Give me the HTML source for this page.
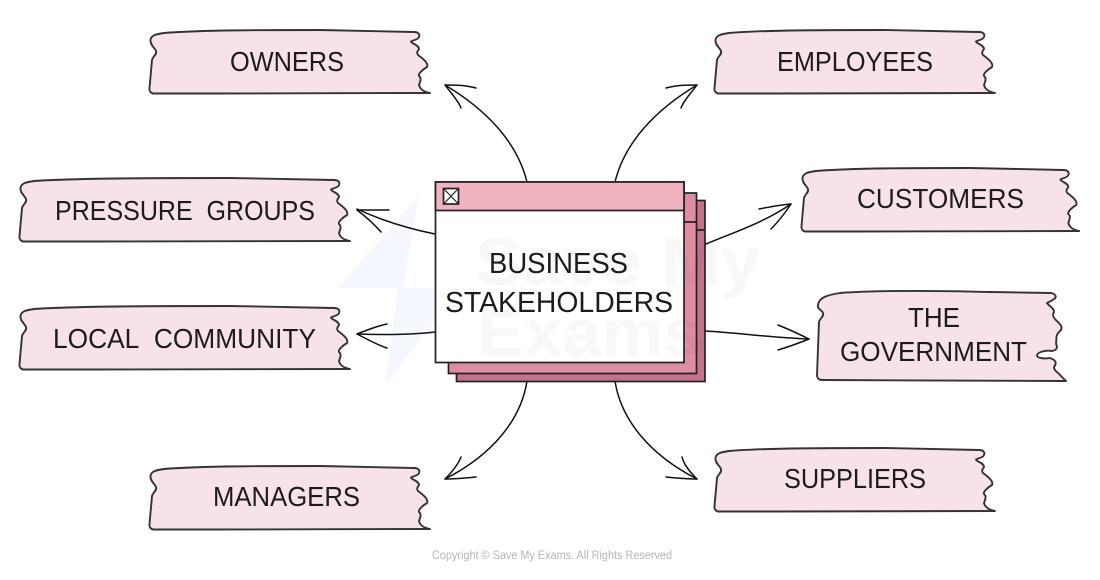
<!DOCTYPE html>
<html>
<head>
<meta charset="utf-8">
<style>
html,body{margin:0;padding:0;background:#fff}
svg{display:block}
text{font-family:"Liberation Sans",sans-serif;font-size:27.5px;fill:#1c1c1c;stroke:none}
.tag{fill:#f7e2e8;stroke:#333;stroke-width:1.9;stroke-linejoin:round}
.a{fill:none;stroke:#111;stroke-width:1.5;stroke-linecap:round;stroke-linejoin:round}
.w{stroke:#222;stroke-width:1.7}
</style>
</head>
<body>
<svg width="1100" height="580" viewBox="0 0 1100 580" xmlns="http://www.w3.org/2000/svg">
<defs>
<path id="t280" d="M0.5 10C1 5 7 4 14 3C50 0 120 0 170 0L264 2C269 2 270 5 269 7C268 10 263 10 261 11.500C262 14 269 15 269 19C268 21 266 22 268 25C272 28 279 33 277 37C272 40 268 44 269 46C272 48 270 52 269 55C270 59 274 62 280 63L60 63.500L5 63.500C1 64 -1 61 -0.500 58L2 30C3 26 7 25 6 21C5 18 0 15 0.500 10Z"/>
<path id="t330" d="M0.5 10C1 5 7 4 14 3C60 0 150 0 210 0L314 2C319 2 320 5 319 7C318 10 313 10 311 11.500C312 14 319 15 319 19C318 21 316 22 318 25C322 28 329 33 327 37C322 40 318 44 319 46C322 48 320 52 319 55C320 59 324 62 330 63L70 63.500L5 63.500C1 64 -1 61 -0.500 58L2 30C3 26 7 25 6 21C5 18 0 15 0.500 10Z"/>
</defs>

<!-- watermark bolt -->
<polygon points="419,195 338,288 398,288 385,385 435,320 435,288 403,288" fill="#f5f7fe"/>

<!-- tags -->
<use href="#t280" x="150" y="30" class="tag"/>
<use href="#t280" x="715" y="30" class="tag"/>
<use href="#t330" x="20" y="178" class="tag"/>
<use href="#t330" x="20" y="306" class="tag"/>
<use href="#t280" x="150" y="466" class="tag"/>
<use href="#t280" x="715" y="448" class="tag"/>
<use href="#t280" x="802" y="168" transform="translate(802 0) scale(.99 1) translate(-802 0)" class="tag"/>
<path class="tag" d="M818 305C819 297 828 295 840 293C880 290 950 291 990 292L1051 293C1056 294 1057 297 1054 299C1052 301 1048 302 1047 303C1050 307 1054 308 1054 312C1052 315 1053 318 1058 322C1062 326 1063 329 1059 332C1055 336 1057 340 1056 344C1058 347 1057 350 1052 351C1045 350 1037 352 1037 356C1038 358 1044 359 1050 358C1056 360 1057 363 1054 367C1054 371 1058 372 1061 376L1066 381L822 380C818 380 817 377 817 375L819 322C820 318 824 317 823 313C822 310 817 309 818 305Z"/>

<!-- arrows -->
<g class="a">
<path d="M527 182C518 145 490 112 445 85"/><path d="M476 88C465 85 455 85 445 85C450 92 458 100 461 108"/>
<path d="M615 182C624 145 652 112 697 85"/><path d="M666 88C677 85 687 85 697 85C692 92 684 100 681 108"/>
<path d="M435 234C410 229 385 222 357 209"/><path d="M389 210H357C365 216 374 224 381 232"/>
<path d="M435 332C410 335 385 335 357 334"/><path d="M387 324C377 326 367 330 357 334C367 339 377 345 387 348"/>
<path d="M527 381C521 420 492 455 445 479"/><path d="M476 477C466 478 456 479 445 479C452 472 458 465 461 457"/>
<path d="M615 381C621 420 650 455 697 479"/><path d="M666 477C676 478 686 479 697 479C690 472 684 465 682 457"/>
<path d="M706 244C735 232 765 222 791 204"/><path d="M759 209C769 207 780 205 791 204C785 213 778 222 771 229"/>
<path d="M705 331C740 333 775 338 809 339"/><path d="M778 325C788 329 799 334 809 339C799 343 788 347 778 350"/>
</g>

<!-- window stack -->
<rect class="w" x="456.5" y="200.5" width="248.5" height="181" fill="#c4728a"/>
<line class="w" x1="456.5" y1="230" x2="705" y2="230"/>
<rect class="w" x="448.5" y="193" width="248" height="180.5" fill="#dd8ea3"/>
<line class="w" x1="448.5" y1="222" x2="696.5" y2="222"/>
<rect class="w" x="435.5" y="182" width="248.5" height="180.500" fill="#fff"/>
<rect class="w" x="435.5" y="182" width="248.5" height="28.500" fill="#f2b3c1"/>
<rect x="443.5" y="188.500" width="15" height="15.500" fill="#fff" stroke="#222" stroke-width="1.700"/>
<path d="M443.500 188.500L458.500 204M458.500 188.500L443.500 204" stroke="#222" stroke-width="1.200"/>

<!-- watermark text -->
<g style="opacity:.022">
<text x="475" y="285" textLength="285" lengthAdjust="spacingAndGlyphs" style="font-size:68px;font-weight:700;fill:#000">Save My</text>
<text x="477" y="355" textLength="225" lengthAdjust="spacingAndGlyphs" style="font-size:65px;font-weight:700;fill:#000">Exams</text>
</g>

<!-- labels -->
<text x="230" y="71" textLength="114" lengthAdjust="spacingAndGlyphs">OWNERS</text>
<text x="777" y="71" textLength="156" lengthAdjust="spacingAndGlyphs">EMPLOYEES</text>
<text x="857" y="208" textLength="167" lengthAdjust="spacingAndGlyphs">CUSTOMERS</text>
<text x="908" y="327" textLength="52" lengthAdjust="spacingAndGlyphs">THE</text>
<text x="840" y="361" textLength="187" lengthAdjust="spacingAndGlyphs">GOVERNMENT</text>
<text x="55" y="220" textLength="260" lengthAdjust="spacingAndGlyphs">PRESSURE&#160;&#160;GROUPS</text>
<text x="53" y="348" textLength="263" lengthAdjust="spacingAndGlyphs">LOCAL&#160;&#160;COMMUNITY</text>
<text x="213" y="506" textLength="147" lengthAdjust="spacingAndGlyphs">MANAGERS</text>
<text x="784" y="488" textLength="142" lengthAdjust="spacingAndGlyphs">SUPPLIERS</text>
<text x="489" y="273" textLength="139" lengthAdjust="spacingAndGlyphs" style="font-size:29px">BUSINESS</text>
<text x="445" y="312" textLength="228" lengthAdjust="spacingAndGlyphs" style="font-size:29px">STAKEHOLDERS</text>

<text x="432" y="559" textLength="240" lengthAdjust="spacingAndGlyphs" style="font-size:11.5px;fill:#b5b5b5">Copyright © Save My Exams. All Rights Reserved</text>
</svg>
</body>
</html>
